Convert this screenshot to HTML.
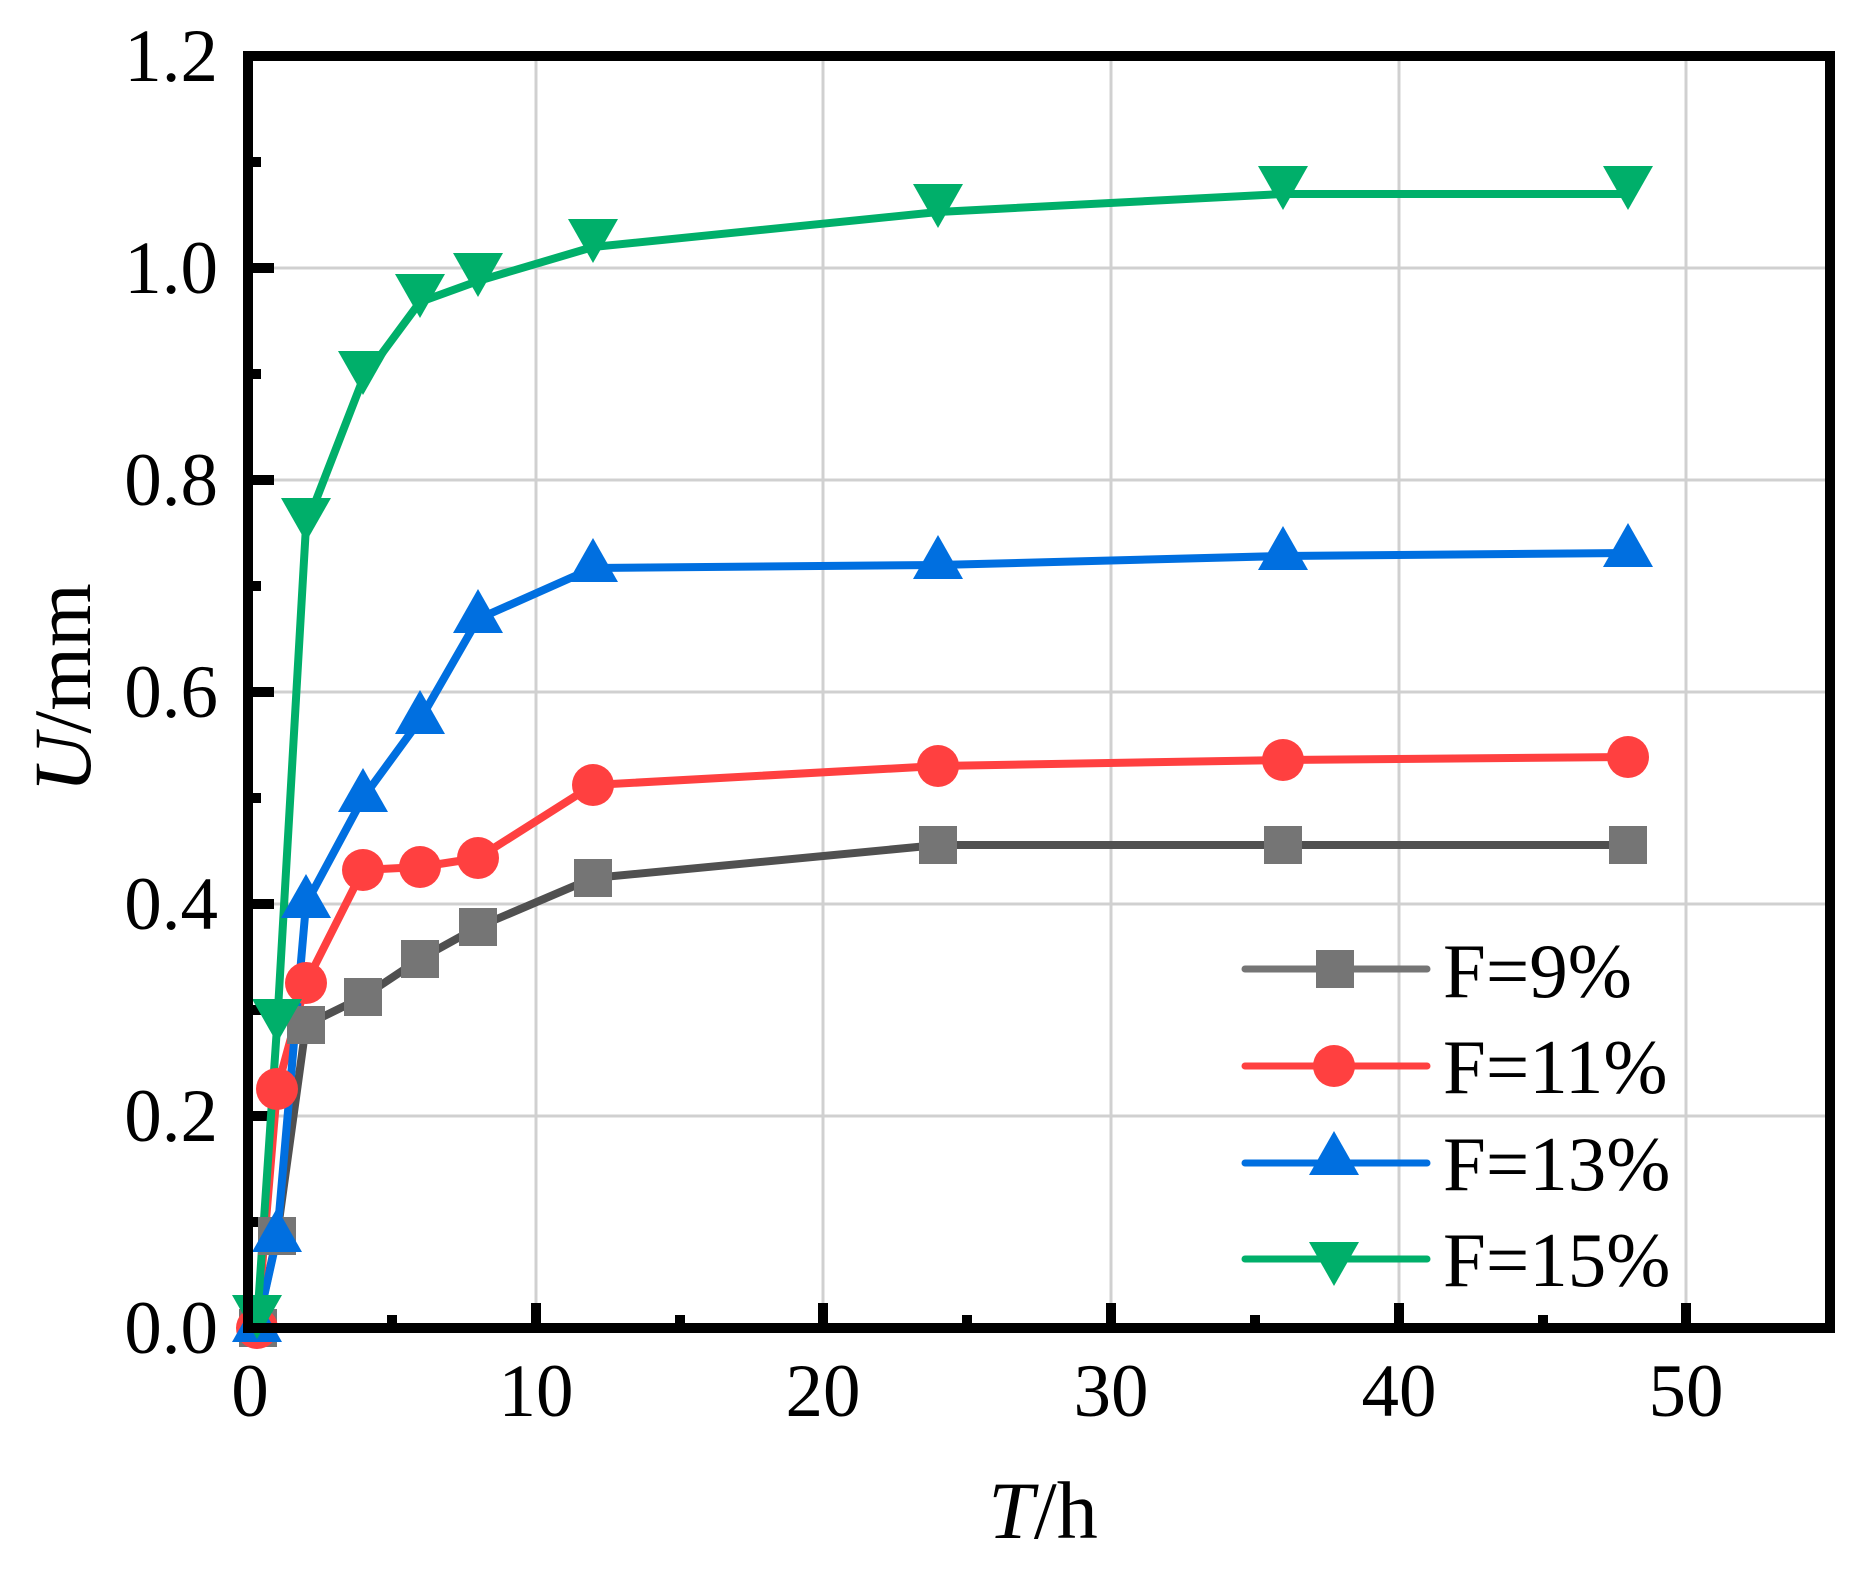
<!DOCTYPE html>
<html><head><meta charset="utf-8"><style>
html,body{margin:0;padding:0;background:#fff;}
svg{display:block;}
text{font-family:"Liberation Serif","Times New Roman",serif;fill:#000;}
</style></head><body>
<svg width="1866" height="1570" viewBox="0 0 1866 1570" xmlns="http://www.w3.org/2000/svg">
<rect width="1866" height="1570" fill="#fff"/>
<g stroke="#d0d0d0" stroke-width="3">
<line x1="536" y1="56" x2="536" y2="1328"/><line x1="823" y1="56" x2="823" y2="1328"/>
<line x1="1111" y1="56" x2="1111" y2="1328"/><line x1="1399" y1="56" x2="1399" y2="1328"/>
<line x1="1686" y1="56" x2="1686" y2="1328"/>
<line x1="248" y1="1116" x2="1830" y2="1116"/><line x1="248" y1="904" x2="1830" y2="904"/>
<line x1="248" y1="692" x2="1830" y2="692"/><line x1="248" y1="480" x2="1830" y2="480"/>
<line x1="248" y1="268" x2="1830" y2="268"/>
</g>
<g stroke="#000" stroke-width="10">
<line x1="536" y1="1328" x2="536" y2="1303"/><line x1="823" y1="1328" x2="823" y2="1303"/>
<line x1="1111" y1="1328" x2="1111" y2="1303"/><line x1="1399" y1="1328" x2="1399" y2="1303"/>
<line x1="1686" y1="1328" x2="1686" y2="1303"/>
<line x1="392" y1="1328" x2="392" y2="1315"/><line x1="680" y1="1328" x2="680" y2="1315"/>
<line x1="967" y1="1328" x2="967" y2="1315"/><line x1="1255" y1="1328" x2="1255" y2="1315"/>
<line x1="1543" y1="1328" x2="1543" y2="1315"/>
<line x1="248" y1="1116" x2="274" y2="1116"/><line x1="248" y1="904" x2="274" y2="904"/>
<line x1="248" y1="692" x2="274" y2="692"/><line x1="248" y1="480" x2="274" y2="480"/>
<line x1="248" y1="268" x2="274" y2="268"/>
<line x1="248" y1="1222" x2="261" y2="1222"/><line x1="248" y1="1010" x2="261" y2="1010"/>
<line x1="248" y1="798" x2="261" y2="798"/><line x1="248" y1="586" x2="261" y2="586"/>
<line x1="248" y1="374" x2="261" y2="374"/><line x1="248" y1="162" x2="261" y2="162"/>
</g>
<g fill="none" stroke-width="8" stroke-linejoin="round" stroke-linecap="round">
<polyline stroke="#505050" points="257,1328 277,1236 306,1025 363,997 420,959 478,927 593,878 938,845 1283,845 1628,845"/>
<polyline stroke="#ff4040" points="257,1328 277,1089 306,983 363,870 420,867 478,858 593,785 938,766 1283,760 1628,757"/>
<polyline stroke="#006fe0" points="257,1328 277,1238 306,904 363,798 420,720 478,619 593,568 938,565 1283,556 1628,553"/>
<polyline stroke="#00af6a" points="257,1323 277,1027 306,526 363,379 420,302 478,281 593,247 938,212 1283,194 1628,194"/>
</g>
<g fill="#757575">
<rect x="239" y="1309" width="38" height="38"/><rect x="258" y="1217" width="38" height="38"/>
<rect x="287" y="1006" width="38" height="38"/><rect x="344" y="978" width="38" height="38"/>
<rect x="401" y="940" width="38" height="38"/><rect x="459" y="908" width="38" height="38"/>
<rect x="574" y="859" width="38" height="38"/><rect x="919" y="826" width="38" height="38"/>
<rect x="1264" y="826" width="38" height="38"/><rect x="1609" y="826" width="38" height="38"/>
</g>
<g fill="#ff4040">
<circle cx="257" cy="1328" r="21"/><circle cx="277" cy="1089" r="21"/><circle cx="306" cy="983" r="21"/>
<circle cx="363" cy="870" r="21"/><circle cx="420" cy="867" r="21"/><circle cx="478" cy="858" r="21"/>
<circle cx="593" cy="785" r="21"/><circle cx="938" cy="766" r="21"/><circle cx="1283" cy="760" r="21"/>
<circle cx="1628" cy="757" r="21"/>
</g>
<g fill="#006fe0">
<polygon points="257,1298 282,1342 232,1342"/><polygon points="277,1208 302,1252 252,1252"/>
<polygon points="306,874 331,918 281,918"/><polygon points="363,768 388,812 338,812"/>
<polygon points="420,690 445,734 395,734"/><polygon points="478,589 503,633 453,633"/>
<polygon points="593,538 618,582 568,582"/><polygon points="938,535 963,579 913,579"/>
<polygon points="1283,526 1308,570 1258,570"/><polygon points="1628,523 1653,567 1603,567"/>
</g>
<g fill="#00af6a">
<polygon points="257,1339 282,1295 232,1295"/><polygon points="277,1043 302,999 252,999"/>
<polygon points="306,542 331,498 281,498"/><polygon points="363,395 388,351 338,351"/>
<polygon points="420,318 445,274 395,274"/><polygon points="478,297 503,253 453,253"/>
<polygon points="593,263 618,219 568,219"/><polygon points="938,228 963,184 913,184"/>
<polygon points="1283,210 1308,166 1258,166"/><polygon points="1628,210 1653,166 1603,166"/>
</g>
<rect x="248" y="56" width="1582" height="1272" fill="none" stroke="#000" stroke-width="10"/>
<g stroke-width="7" stroke-linecap="round">
<line x1="1245" y1="969" x2="1427" y2="969" stroke="#757575"/>
<line x1="1245" y1="1066" x2="1427" y2="1066" stroke="#ff4040"/>
<line x1="1245" y1="1163" x2="1427" y2="1163" stroke="#006fe0"/>
<line x1="1245" y1="1259" x2="1427" y2="1259" stroke="#00af6a"/>
</g>
<rect x="1316" y="950" width="38" height="38" fill="#757575"/>
<circle cx="1334" cy="1066" r="21" fill="#ff4040"/>
<polygon points="1334,1131 1359,1175 1309,1175" fill="#006fe0"/>
<polygon points="1334,1286 1359,1242 1309,1242" fill="#00af6a"/>
<g font-size="77">
<text x="1443" y="997">F=9%</text>
<text x="1443" y="1093">F=11%</text>
<text x="1443" y="1190">F=13%</text>
<text x="1443" y="1286">F=15%</text>
</g>
<g font-size="75" text-anchor="end">
<text x="218" y="1353">0.0</text><text x="218" y="1141">0.2</text>
<text x="218" y="929">0.4</text><text x="218" y="717">0.6</text>
<text x="218" y="505">0.8</text><text x="218" y="293">1.0</text>
<text x="218" y="81">1.2</text>
</g>
<g font-size="75" text-anchor="middle">
<text x="250" y="1416">0</text><text x="536" y="1416">10</text>
<text x="823" y="1416">20</text><text x="1111" y="1416">30</text>
<text x="1399" y="1416">40</text><text x="1686" y="1416">50</text>
</g>
<text x="1043" y="1538" font-size="82" text-anchor="middle"><tspan font-style="italic">T</tspan>/h</text>
<text transform="translate(90,688) rotate(-90)" font-size="82" text-anchor="middle"><tspan font-style="italic">U</tspan>/mm</text>
</svg>
</body></html>
